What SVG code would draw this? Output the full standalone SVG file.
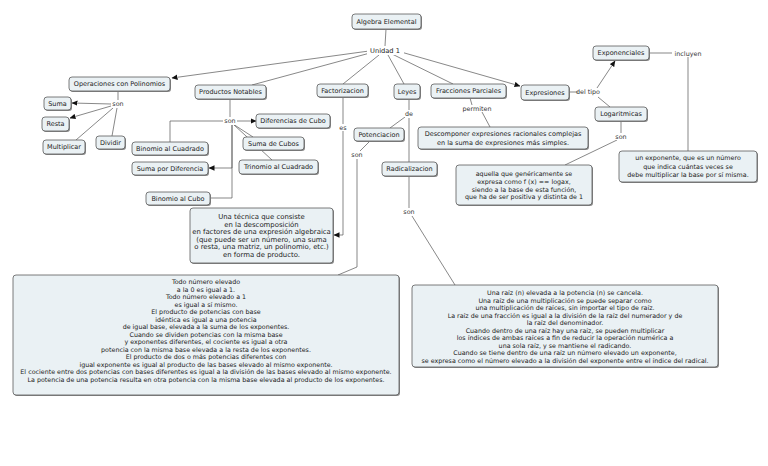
<svg xmlns="http://www.w3.org/2000/svg" width="768" height="466" viewBox="0 0 768 466">
<style>
  .bg{fill:#ffffff}
  .n rect.b{fill:#eaf1f4;stroke:#5a5a5a;stroke-width:0.8}
  .n rect.s{fill:#8a8a8a}
  .n text{font-family:"DejaVu Sans",Verdana,sans-serif;font-size:6.5px;fill:#222;text-anchor:middle}
  .n text.t{font-size:6.35px}
  .n text.k{font-size:6.9px}
  .c line,.c polyline{stroke:#555;stroke-width:0.7;fill:none}
  .lp{font-family:"DejaVu Sans",Verdana,sans-serif;font-size:6.4px;fill:#333;text-anchor:middle}
</style>
<defs>
  <marker id="ah" markerWidth="6" markerHeight="6" refX="5.5" refY="3" orient="auto" markerUnits="userSpaceOnUse">
    <path d="M0,0.3 L6,3 L0,5.7 Z" fill="#111"/>
  </marker>
</defs>
<rect class="bg" x="0" y="0" width="768" height="466"/>

<g id="connectors" class="c">
  <line x1="386" y1="29" x2="385" y2="46"/>
  <line x1="369" y1="51" x2="172" y2="78" marker-end="url(#ah)"/>
  <line x1="370" y1="53" x2="252" y2="85"/>
  <line x1="379" y1="55" x2="343" y2="84"/>
  <line x1="388" y1="55" x2="404" y2="84"/>
  <line x1="392" y1="54" x2="453" y2="84"/>
  <line x1="401" y1="52" x2="520" y2="86" marker-end="url(#ah)"/>
  <line x1="569" y1="92" x2="579" y2="92"/>
  <line x1="597" y1="88" x2="615" y2="61" marker-end="url(#ah)"/>
  <line x1="598" y1="97" x2="610" y2="107"/>
  <line x1="649" y1="53" x2="673" y2="53"/>
  <line x1="688" y1="57" x2="688" y2="151"/>
  <line x1="621" y1="121" x2="621" y2="133"/>
  <line x1="617" y1="140" x2="565" y2="165"/>
  <line x1="470" y1="98" x2="472" y2="105"/>
  <line x1="482" y1="112" x2="490" y2="127"/>
  <line x1="409" y1="99" x2="409" y2="110"/>
  <line x1="405" y1="117" x2="390" y2="128"/>
  <line x1="409" y1="118" x2="409" y2="162"/>
  <line x1="409" y1="176" x2="409" y2="208"/>
  <line x1="412" y1="216" x2="455" y2="285"/>
  <line x1="370" y1="141" x2="360" y2="151"/>
  <polyline points="357,159 357,267 338,275"/>
  <line x1="343" y1="97" x2="343" y2="124"/>
  <polyline points="343,131 343,235 334,235" marker-end="url(#ah)"/>
  <line x1="230" y1="99" x2="230" y2="117"/>
  <polyline points="223,121 170,121 170,142"/>
  <line x1="237" y1="121" x2="256" y2="121" marker-end="url(#ah)"/>
  <line x1="233" y1="124" x2="253" y2="137"/>
  <line x1="233" y1="124" x2="272" y2="160"/>
  <polyline points="232,125 232,168 209,168" marker-end="url(#ah)"/>
  <polyline points="232,125 232,198 210,198"/>
  <line x1="118" y1="91" x2="118" y2="100"/>
  <line x1="111" y1="104" x2="72" y2="103" marker-end="url(#ah)"/>
  <line x1="111" y1="106" x2="70" y2="118" marker-end="url(#ah)"/>
  <line x1="113" y1="108" x2="76" y2="140"/>
  <line x1="117" y1="108" x2="112" y2="136"/>
</g>

<g id="linking-phrases">
  <rect x="367" y="47" width="37" height="8" fill="#fff"/>
  <text class="lp" x="385" y="53" style="font-size:6.7px;fill:#222">Unidad 1</text>
  <rect x="111" y="101" width="14" height="7" fill="#fff"/>
  <text class="lp" x="118" y="106.3">son</text>
  <rect x="223" y="118" width="14" height="7" fill="#fff"/>
  <text class="lp" x="230" y="123.3">son</text>
  <rect x="339" y="124" width="8" height="7" fill="#fff"/>
  <text class="lp" x="343" y="130">es</text>
  <rect x="351" y="151" width="13" height="7" fill="#fff"/>
  <text class="lp" x="357" y="157">son</text>
  <rect x="404" y="110" width="10" height="7" fill="#fff"/>
  <text class="lp" x="409" y="116">de</text>
  <rect x="402" y="208" width="14" height="7" fill="#fff"/>
  <text class="lp" x="409" y="214">son</text>
  <rect x="461" y="105" width="32" height="7" fill="#fff"/>
  <text class="lp" x="477" y="111.3">permiten</text>
  <rect x="578" y="88" width="21" height="8" fill="#fff"/>
  <text class="lp" x="588" y="94">del tipo</text>
  <rect x="672" y="50" width="33" height="7" fill="#fff"/>
  <text class="lp" x="688" y="56">incluyen</text>
  <rect x="614" y="133" width="14" height="7" fill="#fff"/>
  <text class="lp" x="621" y="139">son</text>
</g>

<g id="n-algebra" class="n"><rect class="s" x="353" y="15" width="69" height="15" rx="3"/><rect class="b" x="352" y="14" width="69" height="15" rx="3"/><text x="386.5" y="23.8">Algebra Elemental</text></g>
<g id="n-operaciones" class="n"><rect class="s" x="70" y="78" width="101" height="14" rx="3"/><rect class="b" x="69" y="77" width="101" height="14" rx="3"/><text x="119.5" y="86.3">Operaciones con Polinomios</text></g>
<g id="n-productos" class="n"><rect class="s" x="196" y="86" width="71" height="14" rx="3"/><rect class="b" x="195" y="85" width="71" height="14" rx="3"/><text x="230.5" y="94.3">Productos Notables</text></g>
<g id="n-factorizacion" class="n"><rect class="s" x="318" y="85" width="51" height="13" rx="3"/><rect class="b" x="317" y="84" width="51" height="13" rx="3"/><text x="342.5" y="92.8">Factorizacion</text></g>
<g id="n-leyes" class="n"><rect class="s" x="395" y="85" width="26" height="15" rx="3"/><rect class="b" x="394" y="84" width="26" height="15" rx="3"/><text x="407" y="93.8">Leyes</text></g>
<g id="n-fracciones" class="n"><rect class="s" x="432" y="85" width="75" height="14" rx="3"/><rect class="b" x="431" y="84" width="75" height="14" rx="3"/><text x="468.5" y="93.3">Fracciones Parciales</text></g>
<g id="n-expresiones" class="n"><rect class="s" x="522" y="86" width="48" height="15" rx="3"/><rect class="b" x="521" y="85" width="48" height="15" rx="3"/><text x="545" y="94.8">Expresiones</text></g>
<g id="n-exponenciales" class="n"><rect class="s" x="594" y="47" width="56" height="14" rx="3"/><rect class="b" x="593" y="46" width="56" height="14" rx="3"/><text x="621" y="55.3">Exponenciales</text></g>
<g id="n-logaritmicas" class="n"><rect class="s" x="596" y="108" width="52" height="14" rx="3"/><rect class="b" x="595" y="107" width="52" height="14" rx="3"/><text x="621" y="116.3">Logaritmicas</text></g>
<g id="n-exponente" class="n"><rect class="s" x="620" y="152" width="138" height="31" rx="3"/><rect class="b" x="619" y="151" width="138" height="31" rx="3"/>
  <text class="t" x="688" y="160.2">un exponente, que es un número</text>
  <text class="t" x="688" y="168.6">que indica cuántas veces se</text>
  <text class="t" x="688" y="177">debe multiplicar la base por sí misma.</text></g>
<g id="n-aquella" class="n"><rect class="s" x="457" y="166" width="136" height="40" rx="3"/><rect class="b" x="456" y="165" width="136" height="40" rx="3"/>
  <text class="t" x="524" y="176.2">aquella que genéricamente se</text>
  <text class="t" x="524" y="183.9">expresa como f (x) == logax,</text>
  <text class="t" x="524" y="191.6">siendo a la base de esta función,</text>
  <text class="t" x="524" y="199.3">que ha de ser positiva y distinta de 1</text></g>
<g id="n-descomponer" class="n"><rect class="s" x="419" y="128" width="170" height="22" rx="3"/><rect class="b" x="418" y="127" width="170" height="22" rx="3"/>
  <text x="503" y="136.2">Descomponer expresiones racionales complejas</text>
  <text x="503" y="144.7">en la suma de expresiones más simples.</text></g>
<g id="n-potenciacion" class="n"><rect class="s" x="355" y="129" width="50" height="13" rx="3"/><rect class="b" x="354" y="128" width="50" height="13" rx="3"/><text x="379" y="136.8">Potenciacion</text></g>
<g id="n-radicalizacion" class="n"><rect class="s" x="383" y="163" width="55" height="14" rx="3"/><rect class="b" x="382" y="162" width="55" height="14" rx="3"/><text x="409.5" y="171.3">Radicalizacion</text></g>
<g id="n-diferencias" class="n"><rect class="s" x="257" y="115" width="74" height="14" rx="3"/><rect class="b" x="256" y="114" width="74" height="14" rx="3"/><text x="293" y="123.3">Diferencias de Cubo</text></g>
<g id="n-sumacubos" class="n"><rect class="s" x="244" y="138" width="61" height="13" rx="3"/><rect class="b" x="243" y="137" width="61" height="13" rx="3"/><text x="273.5" y="145.8">Suma de Cubos</text></g>
<g id="n-trinomio" class="n"><rect class="s" x="240" y="161" width="79" height="14" rx="3"/><rect class="b" x="239" y="160" width="79" height="14" rx="3"/><text x="278.5" y="169.3">Trinomio al Cuadrado</text></g>
<g id="n-binomiocuad" class="n"><rect class="s" x="133" y="143" width="76" height="13" rx="3"/><rect class="b" x="132" y="142" width="76" height="13" rx="3"/><text x="170" y="150.8">Binomio al Cuadrado</text></g>
<g id="n-sumapordif" class="n"><rect class="s" x="133" y="163" width="76" height="13" rx="3"/><rect class="b" x="132" y="162" width="76" height="13" rx="3"/><text x="170" y="170.8">Suma por Diferencia</text></g>
<g id="n-binomiocubo" class="n"><rect class="s" x="147" y="193" width="64" height="13" rx="3"/><rect class="b" x="146" y="192" width="64" height="13" rx="3"/><text x="178" y="200.8">Binomio al Cubo</text></g>
<g id="n-suma" class="n"><rect class="s" x="45" y="98" width="27" height="13" rx="3"/><rect class="b" x="44" y="97" width="27" height="13" rx="3"/><text x="57.5" y="105.8">Suma</text></g>
<g id="n-resta" class="n"><rect class="s" x="43" y="118" width="27" height="14" rx="3"/><rect class="b" x="42" y="117" width="27" height="14" rx="3"/><text x="55.5" y="126.3">Resta</text></g>
<g id="n-multiplicar" class="n"><rect class="s" x="44" y="141" width="42" height="14" rx="3"/><rect class="b" x="43" y="140" width="42" height="14" rx="3"/><text x="64" y="149.3">Multiplicar</text></g>
<g id="n-dividir" class="n"><rect class="s" x="97" y="137" width="29" height="13" rx="3"/><rect class="b" x="96" y="136" width="29" height="13" rx="3"/><text x="110.5" y="144.8">Dividir</text></g>
<g id="n-tecnica" class="n"><rect class="s" x="191" y="209" width="143" height="55" rx="3"/><rect class="b" x="190" y="208" width="143" height="55" rx="3"/>
  <text class="k" x="261.5" y="219.2">Una técnica que consiste</text>
  <text class="k" x="261.5" y="226.7">en la descomposición</text>
  <text class="k" x="261.5" y="234.2">en factores de una expresión algebraica</text>
  <text class="k" x="261.5" y="241.7">(que puede ser un número, una suma</text>
  <text class="k" x="261.5" y="249.2">o resta, una matriz, un polinomio, etc.)</text>
  <text class="k" x="261.5" y="256.7">en forma de producto.</text></g>
<g id="n-leyes-potencia" class="n"><rect class="s" x="14" y="276" width="386" height="120" rx="3"/><rect class="b" x="13" y="275" width="386" height="120" rx="3"/>
  <text class="t" x="206" y="284.2">Todo número elevado</text>
  <text class="t" x="206" y="291.7">a la 0 es igual a 1.</text>
  <text class="t" x="206" y="299.2">Todo número elevado a 1</text>
  <text class="t" x="206" y="306.7">es igual a sí mismo.</text>
  <text class="t" x="206" y="314.2">El producto de potencias con base</text>
  <text class="t" x="206" y="321.7">idéntica es igual a una potencia</text>
  <text class="t" x="206" y="329.2">de igual base, elevada a la suma de los exponentes.</text>
  <text class="t" x="206" y="336.7">Cuando se dividen potencias con la misma base</text>
  <text class="t" x="206" y="344.2">y exponentes diferentes, el cociente es igual a otra</text>
  <text class="t" x="206" y="351.7">potencia con la misma base elevada a la resta de los exponentes.</text>
  <text class="t" x="206" y="359.2">El producto de dos o más potencias diferentes con</text>
  <text class="t" x="206" y="366.7">igual exponente es igual al producto de las bases elevado al mismo exponente.</text>
  <text class="t" x="206" y="374.2">El cociente entre dos potencias con bases diferentes es igual a la división de las bases elevado al mismo exponente.</text>
  <text class="t" x="206" y="381.7">La potencia de una potencia resulta en otra potencia con la misma base elevada al producto de los exponentes.</text></g>
<g id="n-leyes-radical" class="n"><rect class="s" x="413" y="286" width="306" height="82" rx="3"/><rect class="b" x="412" y="285" width="306" height="82" rx="3"/>
  <text class="t" x="565" y="295.2">Una raíz (n) elevada a la potencia (n) se cancela.</text>
  <text class="t" x="565" y="302.7">Una raíz de una multiplicación se puede separar como</text>
  <text class="t" x="565" y="310.2">una multiplicación de raíces, sin importar el tipo de raíz.</text>
  <text class="t" x="565" y="317.7">La raíz de una fracción es igual a la división de la raíz del numerador y de</text>
  <text class="t" x="565" y="325.2">la raíz del denominador.</text>
  <text class="t" x="565" y="332.7">Cuando dentro de una raíz hay una raíz, se pueden multiplicar</text>
  <text class="t" x="565" y="340.2">los índices de ambas raíces a fin de reducir la operación numérica a</text>
  <text class="t" x="565" y="347.7">una sola raíz, y se mantiene el radicando.</text>
  <text class="t" x="565" y="355.2">Cuando se tiene dentro de una raíz un número elevado un exponente,</text>
  <text class="t" x="565" y="362.7">se expresa como el número elevado a la división del exponente entre el índice del radical.</text></g>
</svg>
